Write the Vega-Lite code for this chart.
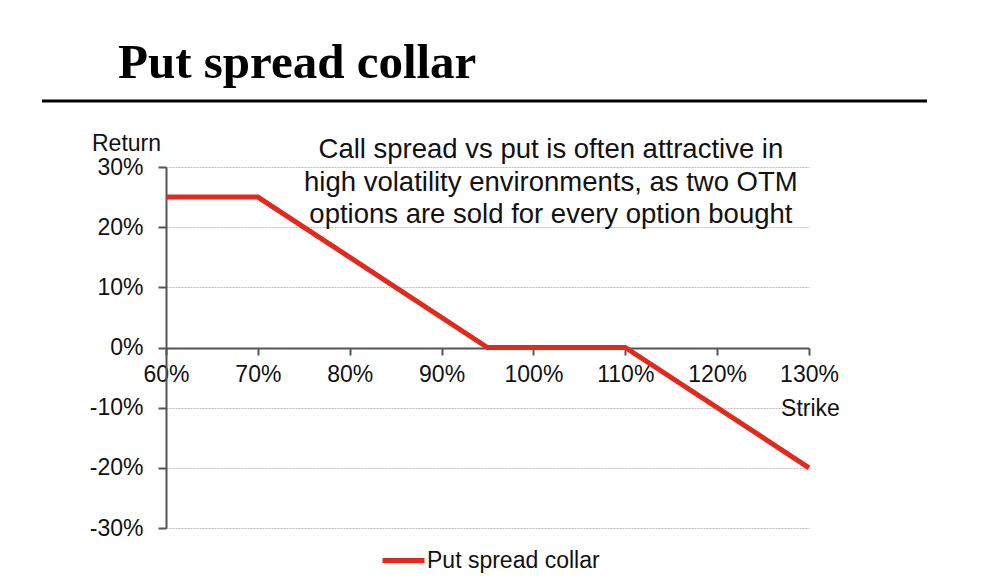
{
  "$schema": "https://vega.github.io/schema/vega-lite/v6.json",
  "width": 643,
  "height": 361,
  "autosize": {"type": "none"},
  "padding": {"left": 166, "top": 167, "right": 173, "bottom": 57},
  "background": "white",
  "config": {"view": {"stroke": null}, "font": "Liberation Sans"},
  "datasets": {
    "payoff": [
      {"strike": 0.6, "ret": 0.25, "series": "Put spread collar"},
      {"strike": 0.7, "ret": 0.25, "series": "Put spread collar"},
      {"strike": 0.95, "ret": 0.0, "series": "Put spread collar"},
      {"strike": 1.1, "ret": 0.0, "series": "Put spread collar"},
      {"strike": 1.3, "ret": -0.2, "series": "Put spread collar"}
    ],
    "note": [
      {"strike": 1.019, "ret": 0.3282, "label": "Call spread vs put is often attractive in"},
      {"strike": 1.019, "ret": 0.2734, "label": "high volatility environments, as two OTM"},
      {"strike": 1.019, "ret": 0.2202, "label": "options are sold for every option bought"}
    ],
    "heading": [
      {"strike": 0.5477, "ret": 0.4479, "label": "Put spread collar"}
    ],
    "divider": [
      {"strike": 0.465, "strike2": 1.4284, "ret": 0.4097}
    ]
  },
  "encoding": {
    "x": {
      "field": "strike",
      "type": "quantitative",
      "scale": {"domain": [0.6, 1.3], "nice": false, "zero": false},
      "axis": {
        "format": ".0%",
        "values": [0.6, 0.7, 0.8, 0.9, 1.0, 1.1, 1.2, 1.3],
        "offset": -180,
        "grid": false,
        "domainColor": "#555555",
        "domainWidth": 2,
        "tickColor": "#555555",
        "tickWidth": 2,
        "tickSize": 7,
        "labelFontSize": 23,
        "labelColor": "#111111",
        "labelPadding": 8,
        "labelFlush": false,
        "labelOverlap": false,
        "title": "Strike",
        "titleFontSize": 23,
        "titleFontWeight": "normal",
        "titleColor": "#111111",
        "titleX": 644,
        "titleY": 67,
        "titleAlign": "center",
        "titleBaseline": "alphabetic"
      }
    },
    "y": {
      "field": "ret",
      "type": "quantitative",
      "scale": {"domain": [-0.3, 0.3], "nice": false},
      "axis": {
        "format": ".0%",
        "labelExpr": "replace(datum.label, '\u2212', '-')",
        "values": [-0.3, -0.2, -0.1, 0, 0.1, 0.2, 0.3],
        "grid": true,
        "gridColor": "#bdbdbd",
        "gridDash": [2, 1],
        "gridWidth": 1.2,
        "domainColor": "#555555",
        "domainWidth": 2,
        "tickColor": "#555555",
        "tickWidth": 2,
        "tickSize": 8,
        "labelFontSize": 23,
        "labelColor": "#111111",
        "labelPadding": 15,
        "labelFlush": false,
        "labelOverlap": false,
        "title": "Return",
        "titleAngle": 0,
        "titleFontSize": 23,
        "titleFontWeight": "normal",
        "titleColor": "#111111",
        "titleX": -40,
        "titleY": -17,
        "titleAlign": "center",
        "titleBaseline": "alphabetic"
      }
    }
  },
  "layer": [
    {
      "data": {"name": "divider"},
      "mark": {"type": "rule", "color": "#000000", "strokeWidth": 3},
      "encoding": {"x2": {"field": "strike2"}}
    },
    {
      "data": {"name": "heading"},
      "mark": {"type": "text", "font": "Liberation Serif", "fontSize": 49, "fontWeight": "bold", "align": "left", "baseline": "alphabetic", "color": "#000000"},
      "encoding": {"text": {"field": "label"}}
    },
    {
      "data": {"name": "payoff"},
      "mark": {"type": "line", "strokeWidth": 5},
      "encoding": {
        "color": {
          "field": "series",
          "type": "nominal",
          "scale": {"domain": ["Put spread collar"], "range": ["#e02a1e"]},
          "legend": {
            "orient": "none",
            "legendX": 214,
            "legendY": 370,
            "title": null,
            "padding": 0,
            "symbolType": "stroke",
            "symbolStrokeWidth": 5,
            "symbolSize": 1764,
            "labelFontSize": 23,
            "labelColor": "#111111",
            "labelOffset": 0,
            "labelLimit": 0
          }
        }
      }
    },
    {
      "data": {"name": "note"},
      "mark": {"type": "text", "fontSize": 27.5, "align": "center", "baseline": "middle", "color": "#111111"},
      "encoding": {"text": {"field": "label"}}
    }
  ]
}
